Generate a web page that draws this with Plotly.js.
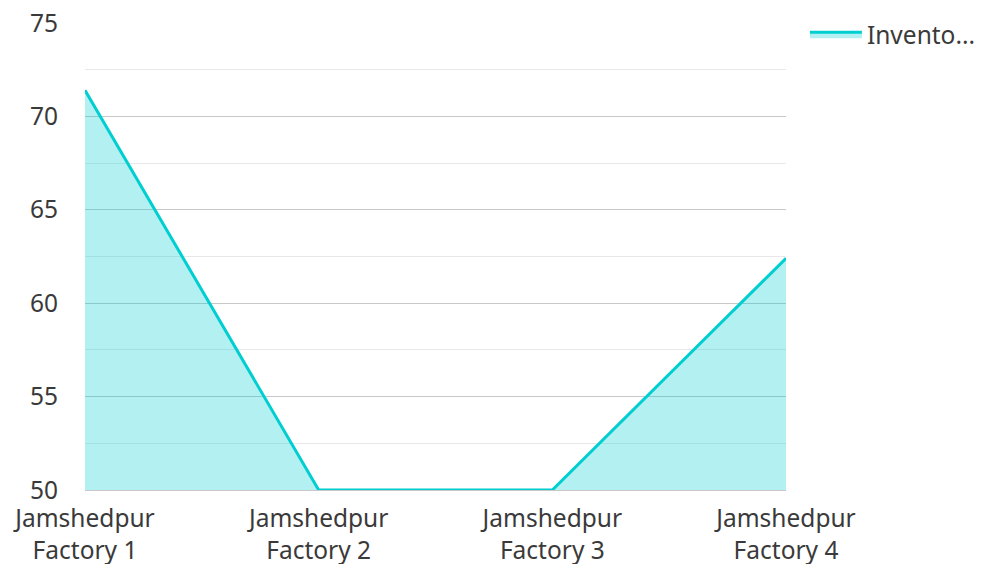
<!DOCTYPE html>
<html>
<head>
<meta charset="utf-8">
<script src="https://cdn.plot.ly/plotly-3.0.1.min.js"></script>
<style>html,body{margin:0;padding:0;background:#fff;}#chart{width:983px;height:564px;}</style>
</head>
<body>
<div id="chart"></div>
<script>
const categories = ["Jamshedpur<br>Factory 1", "Jamshedpur<br>Factory 2", "Jamshedpur<br>Factory 3", "Jamshedpur<br>Factory 4"];
const values = [71.4, 50, 50, 62.4];
const seriesName = "Invento...";
const yTicks = [50, 55, 60, 65, 70, 75];

const xIdx = categories.map((c, i) => i);

const trace = {
  x: xIdx,
  y: values,
  type: "scatter",
  mode: "lines",
  name: seriesName,
  line: {color: "#00CED1", width: 3},
  fill: "tozeroy",
  fillcolor: "rgba(0,206,209,0.3)",
  hoverinfo: "skip"
};

const layout = {
  width: 983,
  height: 564,
  margin: {l: 85, r: 197, t: 23, b: 74, autoexpand: false},
  paper_bgcolor: "#fff",
  plot_bgcolor: "#fff",
  font: {family: "Noto Sans, Open Sans, sans-serif", size: 24.5, color: "#3a3a3a"},
  showlegend: true,
  legend: {x: 1.027, y: 0.976, xanchor: "left", yanchor: "middle", itemwidth: 52, font: {size: 24.5, color: "#3a3a3a"}, bgcolor: "rgba(0,0,0,0)"},
  xaxis: {
    range: [0, 3],
    tickvals: xIdx,
    ticktext: categories,
    showgrid: false,
    zeroline: false,
    showline: true,
    linecolor: "#c8c8c8",
    linewidth: 1,
    ticks: "",
    ticklabelstandoff: 7,
    fixedrange: true
  },
  yaxis: {
    range: [50, 75],
    tickvals: yTicks,
    showgrid: true,
    gridcolor: "#c8c8c8",
    gridwidth: 1,
    zeroline: false,
    showline: false,
    ticks: "",
    ticklabelstandoff: 26,
    minor: {dtick: 2.5, tick0: 50, showgrid: true, gridcolor: "#e8e8e8", gridwidth: 1, ticks: ""},
    fixedrange: true
  }
};

Plotly.newPlot("chart", [trace], layout, {displayModeBar: false, staticPlot: true});
</script>
</body>
</html>
